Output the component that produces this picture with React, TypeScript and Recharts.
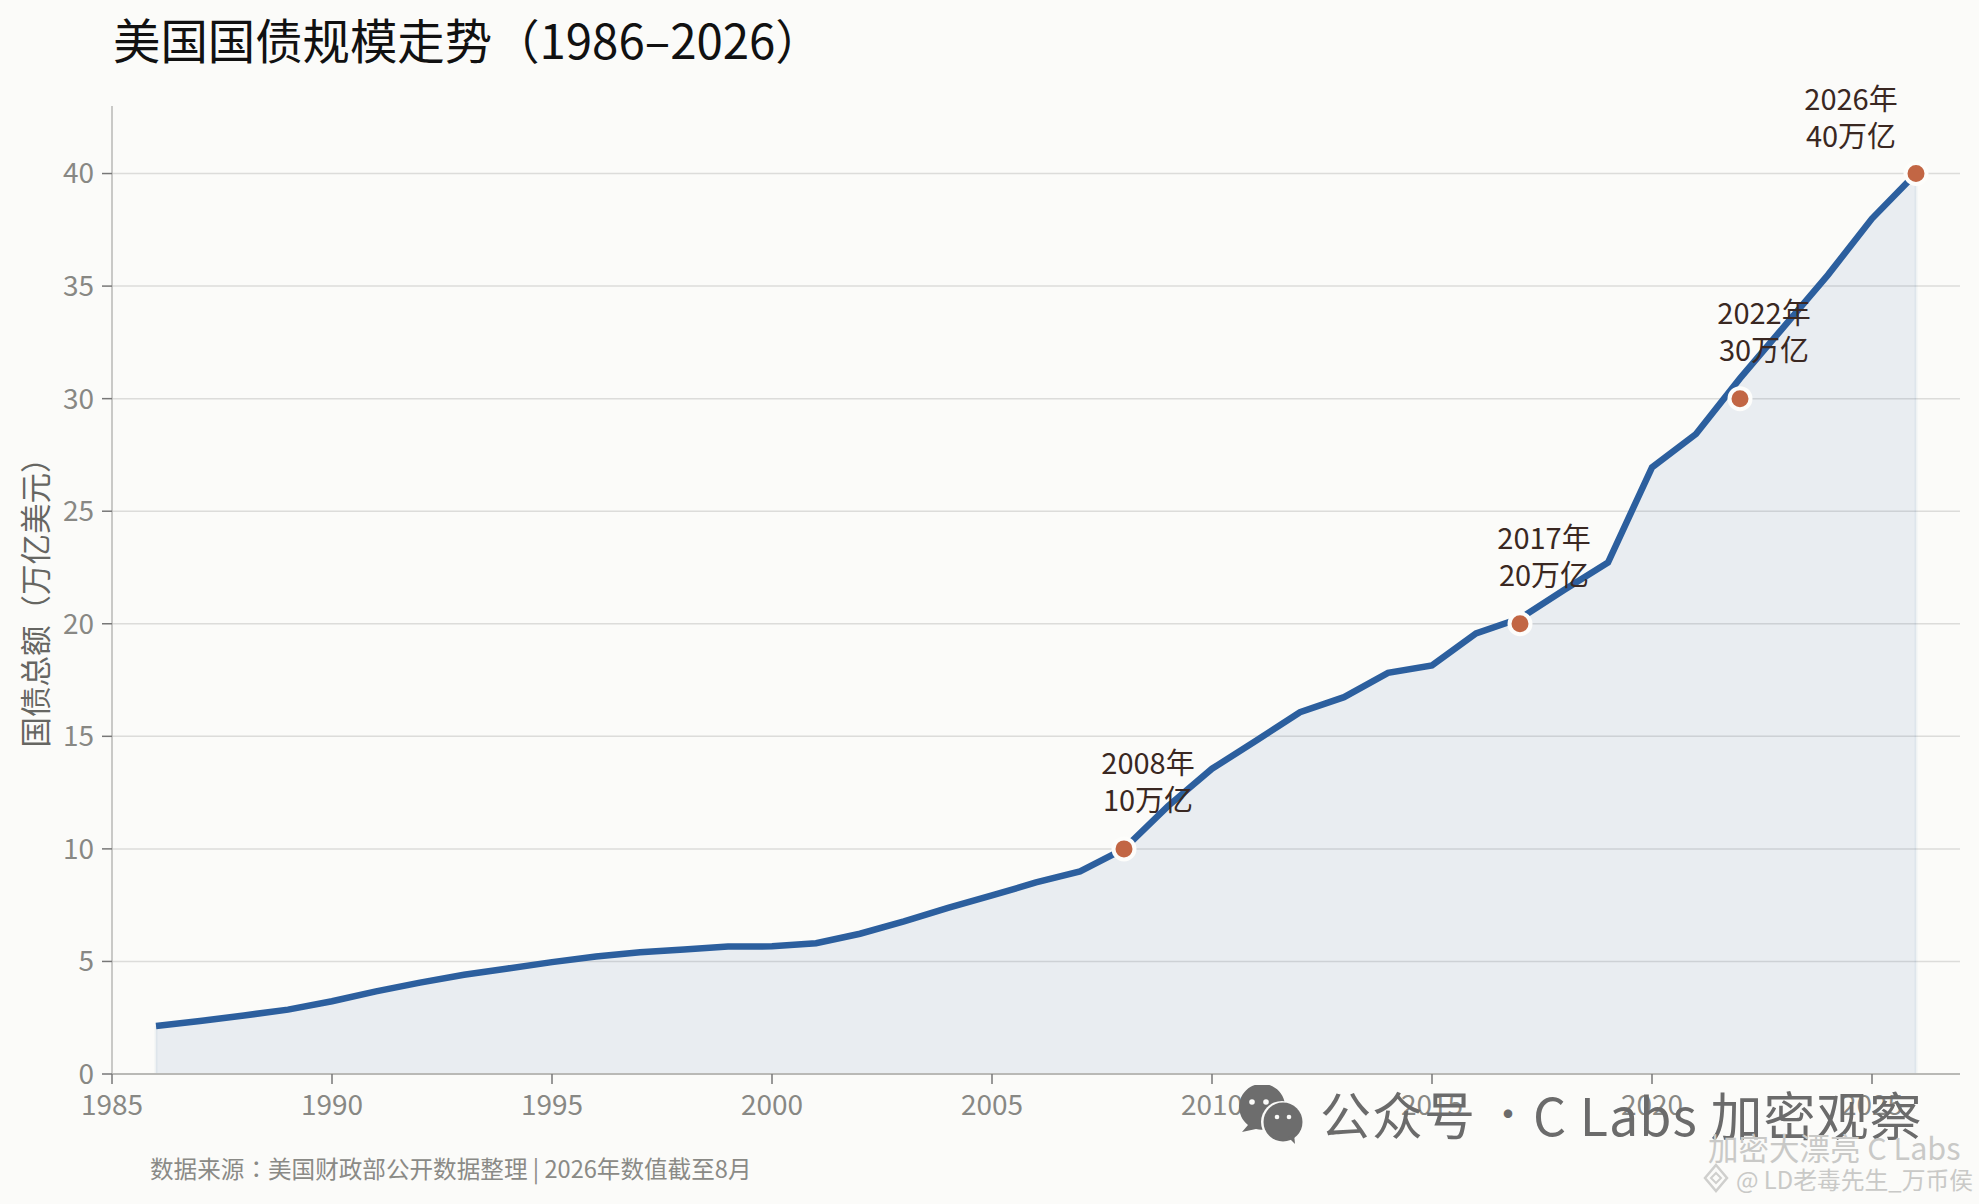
import {
  ComposedChart, Area, Line, XAxis, YAxis, CartesianGrid, ReferenceDot, ReferenceLine,
} from 'recharts'

const CJK = '"Noto Sans CJK SC", "Noto Sans", sans-serif'

const years = [
  1986, 1987, 1988, 1989, 1990, 1991, 1992, 1993, 1994, 1995, 1996, 1997, 1998, 1999,
  2000, 2001, 2002, 2003, 2004, 2005, 2006, 2007, 2008, 2009, 2010, 2011, 2012, 2013,
  2014, 2015, 2016, 2017, 2018, 2019, 2020, 2021, 2022, 2023, 2024, 2025, 2026,
]
const debtTotals = [
  2.13, 2.35, 2.6, 2.86, 3.23, 3.67, 4.06, 4.41, 4.69, 4.97, 5.22, 5.41, 5.53, 5.66,
  5.67, 5.81, 6.23, 6.78, 7.38, 7.93, 8.51, 9.0, 10.0, 11.9, 13.56, 14.8, 16.07, 16.74,
  17.82, 18.15, 19.57, 20.24, 21.5, 22.72, 26.95, 28.43, 30.9, 33.2, 35.5, 38.0, 40.0,
]
const xTicks = [1985, 1990, 1995, 2000, 2005, 2010, 2015, 2020, 2025]
const yTicks = [0, 5, 10, 15, 20, 25, 30, 35, 40]

const milestoneYears = [2008, 2017, 2022, 2026]
const milestoneValues = [10, 20, 30, 40]
const milestoneYearLabels = ['2008年', '2017年', '2022年', '2026年']
const milestoneValueLabels = ['10万亿', '20万亿', '30万亿', '40万亿']
const milestoneShiftX = [24, 24, 24, -65]
const milestoneShiftY = [-85, -85, -85, -74]

const chartData = years.map((year, i) => ({ year, total: debtTotals[i] }))

function MilestoneLabel({ viewBox, index }: any) {
  const cx = viewBox.x + viewBox.width / 2
  const cy = viewBox.y + viewBox.height / 2
  const x = cx + milestoneShiftX[index]
  const y = cy + milestoneShiftY[index]
  return (
    <text x={x} textAnchor="middle" fontFamily={CJK} fontSize={29} fill="#3a2822">
      <tspan x={x} y={y + 10}>{milestoneYearLabels[index]}</tspan>
      <tspan x={x} y={y + 47}>{milestoneValueLabels[index]}</tspan>
    </text>
  )
}

function WeChatIcon() {
  return (
    <svg width={70} height={60} viewBox="0 0 70 60" style={{ position: 'absolute', left: 1236, top: 1085 }}>
      <path d="M6 45 L12 38 A23 23 0 1 1 20 42 Z" fill="#6d6d6d" transform="translate(0 2)" />
      <circle cx="46" cy="37" r="21" fill="#fbfbf9" />
      <circle cx="47" cy="37" r="19.5" fill="#6d6d6d" />
      <path d="M52 52 L59 59 L58 49 Z" fill="#6d6d6d" />
      <circle cx="16" cy="17" r="2.8" fill="#fbfbf9" />
      <circle cx="30" cy="17" r="2.8" fill="#fbfbf9" />
      <circle cx="41" cy="32" r="2.3" fill="#fbfbf9" />
      <circle cx="53" cy="32" r="2.3" fill="#fbfbf9" />
    </svg>
  )
}

function DiamondIcon() {
  return (
    <svg width={26} height={30} viewBox="0 0 26 30" style={{ position: 'absolute', left: 1703, top: 1163 }}>
      <path d="M13 2 L24 15 L13 28 L2 15 Z" fill="none" stroke="#cfcfcd" strokeWidth={2.5} />
      <path d="M13 10 L18 15 L13 20 L8 15 Z" fill="none" stroke="#cfcfcd" strokeWidth={2} />
    </svg>
  )
}

function overlayText(left: number, top: number, size: number, color: string) {
  return {
    position: 'absolute' as const, left, top, fontSize: size, color,
    fontFamily: CJK, lineHeight: 1, whiteSpace: 'nowrap' as const,
  }
}

export default function App() {
  return (
    <div style={{ position: 'absolute', left: 0, top: 0, width: 1979, height: 1204, background: '#fbfbf9', overflow: 'hidden' }}>
      <ComposedChart
        width={1979}
        height={1204}
        data={chartData}
        margin={{ top: 106, right: 19, bottom: 0, left: 0 }}
      >
        <CartesianGrid vertical={false} horizontalValues={yTicks} stroke="#dcdcda" strokeWidth={1.5} />
        <XAxis
          dataKey="year"
          type="number"
          domain={[1985, 2027]}
          ticks={xTicks}
          height={130}
          tickSize={10}
          tickMargin={11}
          stroke="#b9b9b6"
          strokeWidth={2}
          tick={{ fill: '#888884', fontSize: 28, fontFamily: CJK, stroke: 'none' }}
          tickLine={{ stroke: '#777', strokeWidth: 1.5 }}
        />
        <YAxis
          type="number"
          domain={[0, 43]}
          ticks={yTicks}
          width={112}
          tickSize={10}
          tickMargin={8}
          stroke="#b9b9b6"
          strokeWidth={1.5}
          tick={{ fill: '#888884', fontSize: 28, fontFamily: CJK, stroke: 'none' }}
          tickLine={{ stroke: '#777', strokeWidth: 1.5 }}
          label={{
            value: '国债总额（万亿美元）',
            angle: -90,
            position: 'insideLeft',
            offset: 36,
            dy: 5,
            style: { fill: '#666662', fontSize: 30.5, fontFamily: CJK, stroke: 'none', textAnchor: 'middle' },
          }}
        />
        <Area dataKey="total" type="linear" stroke="none" fill="#2c5f9e" fillOpacity={0.085} isAnimationActive={false} />
        <ReferenceLine segment={[{ x: 1986, y: 0 }, { x: 1986, y: debtTotals[0] }]} stroke="#2c5f9e" strokeOpacity={0.06} strokeWidth={3} />
        <ReferenceLine segment={[{ x: 2026, y: 0 }, { x: 2026, y: debtTotals[40] }]} stroke="#2c5f9e" strokeOpacity={0.06} strokeWidth={3} />
        <Line dataKey="total" type="linear" stroke="#2c5f9e" strokeWidth={6.5} dot={false} activeDot={false} isAnimationActive={false} />
        {milestoneYears.map((year, i) => (
          <ReferenceDot
            key={year}
            x={year}
            y={milestoneValues[i]}
            r={10.5}
            fill="#c26644"
            stroke="#fdfdfb"
            strokeWidth={4}
            label={<MilestoneLabel index={i} />}
          />
        ))}
      </ComposedChart>

      <div style={overlayText(113, 15, 47.4, '#111111')}>美国国债规模走势（1986–2026）</div>
      <div style={overlayText(150, 1157, 23.6, '#8a8a86')}>
        数据来源<span style={{ fontFamily: '"Noto Sans CJK TC"' }}>：</span>美国财政部公开数据整理 | 2026年数值截至8月
      </div>

      <WeChatIcon />
      <div style={{ ...overlayText(1320, 1088, 51, '#6b6b6b'), letterSpacing: 1 }}>公众号</div>
      <div style={overlayText(1488, 1092, 40, '#6b6b6b')}>·</div>
      <div style={{ ...overlayText(1533, 1088, 52, '#6b6b6b'), letterSpacing: 1 }}>C Labs 加密观察</div>
      <div style={overlayText(1708, 1132, 30.5, '#c9c9c7')}>加密大漂亮 C Labs</div>
      <DiamondIcon />
      <div style={overlayText(1736, 1167, 23.8, '#c9c9c7')}>@ LD老毒先生_万币侯</div>
    </div>
  )
}
